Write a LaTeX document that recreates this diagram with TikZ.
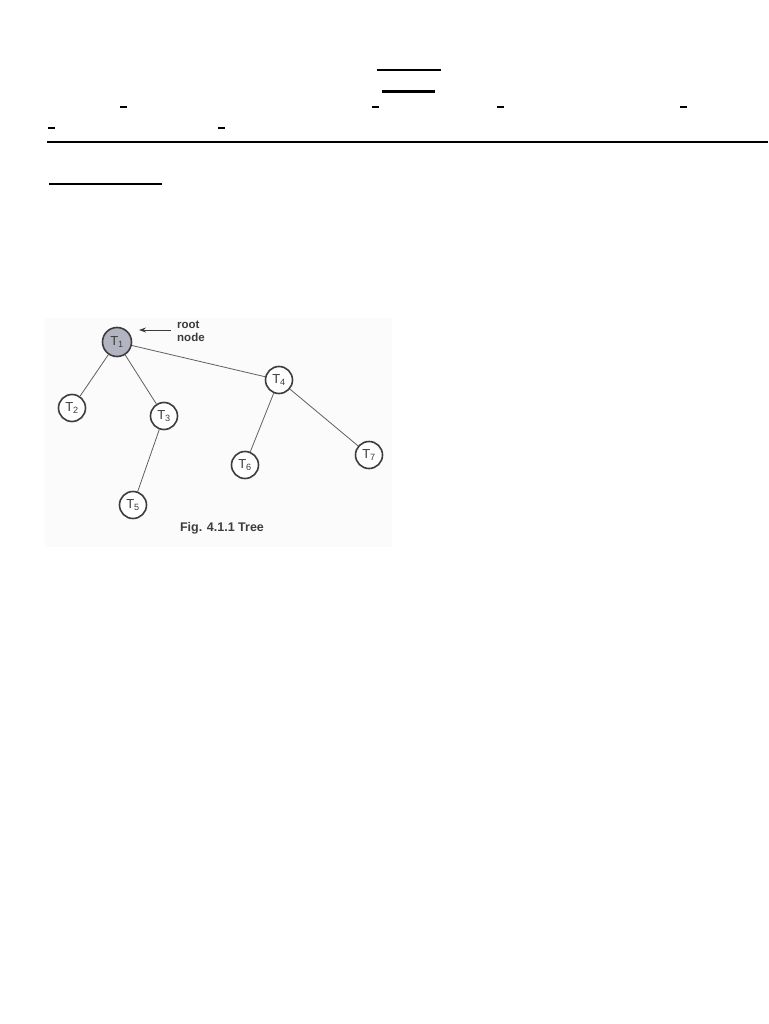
\documentclass[tikz,border=0pt]{standalone}
\usepackage{fontspec}
\setmainfont{Liberation Sans}
\usetikzlibrary{arrows.meta}
\definecolor{ink}{RGB}{60,60,60}
\definecolor{rootfill}{RGB}{178,180,194}
\definecolor{edgecol}{RGB}{95,95,95}
\definecolor{photobg}{RGB}{251,251,251}
\tikzset{
  tnode/.style={circle, draw=ink, line width=1.6pt, fill=white, minimum size=27pt, inner sep=0pt, font=\fontsize{13}{14}\selectfont, text=ink},
  rootnode/.style={tnode, fill=rootfill, minimum size=29pt},
  edge/.style={draw=edgecol, line width=0.8pt},
  rule/.style={fill=black, draw=none},
  lbl/.style={font=\bfseries\fontsize{11.5}{13}\selectfont, text=ink, inner sep=0pt, anchor=west},
}
\begin{document}
\begin{tikzpicture}[x=1pt,y=-1pt]
\useasboundingbox (0,0) rectangle (768,1024);
\fill[white] (0,0) rectangle (768,1024);
% top rules
\fill[rule] (377,69.5) rectangle (441,71);
\fill[rule] (382,90.5) rectangle (435,93);
\foreach \xa in {120,372,497,680}{\fill[rule] (\xa,106.5) rectangle (\xa+7,108);}
\foreach \xa in {48,218}{\fill[rule] (\xa,127.5) rectangle (\xa+7,129);}
\fill[rule] (47,141) rectangle (768,143.5);
\fill[rule] (49,183) rectangle (162,185.5);
% photo background
\fill[photobg] (45,318) rectangle (392,547);
% tree
\node[rootnode] (t1) at (117,342) {T\textsubscript{1}};
\node[tnode] (t2) at (72,408) {T\textsubscript{2}};
\node[tnode] (t3) at (164,416) {T\textsubscript{3}};
\node[tnode] (t4) at (279,380) {T\textsubscript{4}};
\node[tnode] (t5) at (133,505) {T\textsubscript{5}};
\node[tnode] (t6) at (245,465) {T\textsubscript{6}};
\node[tnode] (t7) at (369,455) {T\textsubscript{7}};
\draw[edge] (t1) -- (t2);
\draw[edge] (t1) -- (t3);
\draw[edge] (t1) -- (t4);
\draw[edge] (t3) -- (t5);
\draw[edge] (t4) -- (t6);
\draw[edge] (t4) -- (t7);
% root label
\node[lbl, align=left] (rootlbl) at (177,331) {root\\node};
\coordinate (arrs) at (171,330);
\coordinate (arre) at (139,330);
\draw[draw=ink, line width=1pt, -{Stealth[length=7pt,width=5pt]}] (arrs) -- (arre);
\node[font=\bfseries\fontsize{12.5}{13}\selectfont, text=ink] (cap) at (222,528) {Fig. 4.1.1 Tree};
\end{tikzpicture}
\end{document}
